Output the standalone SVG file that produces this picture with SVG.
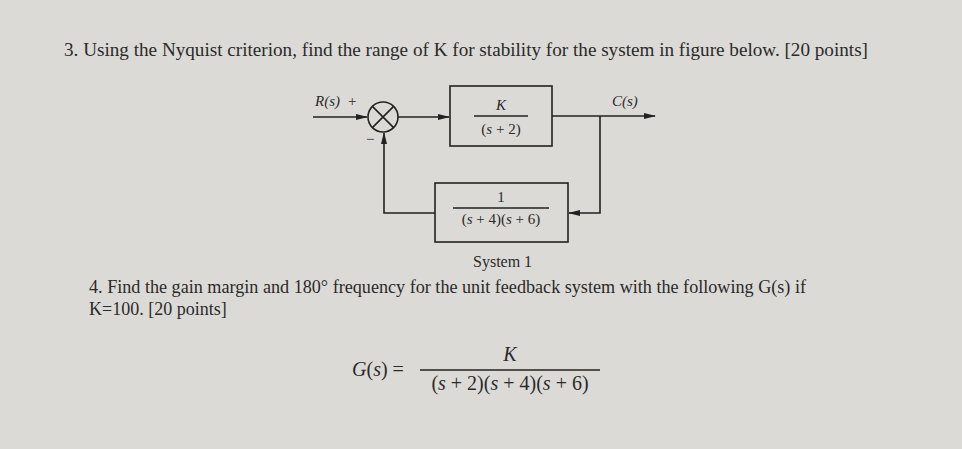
<svg xmlns="http://www.w3.org/2000/svg" width="962" height="449" viewBox="0 0 962 449">
<style>
text{font-family:"Liberation Serif",serif;fill:#2a2a2a}
.t{font-size:18px}
.b{font-size:15px}
.i{font-style:italic}
.ln{stroke:#222;stroke-width:1.6;fill:none}
</style>
<defs><marker id="a" markerWidth="12" markerHeight="8" refX="11" refY="4" orient="auto" markerUnits="userSpaceOnUse"><path d="M0,1 L12,4 L0,7z" fill="#222"/></marker></defs>
<rect width="962" height="449" fill="#dcdad6"/>
<text class="t" x="64" y="56" textLength="804" lengthAdjust="spacingAndGlyphs" style="font-size:19px">3. Using the Nyquist criterion, find the range of K for stability for the system in figure below. [20 points]</text>
<g id="sum"><circle class="ln" cx="383" cy="117" r="15"/><path class="ln" d="M372.4,106.4 L393.6,127.6 M393.6,106.4 L372.4,127.6"/>
<text class="b i" x="315" y="106">R(s)</text><text class="b" x="348" y="106">+</text><text class="b" x="366" y="144">−</text></g>
<g id="fwd"><rect class="ln" x="450" y="86" width="102" height="60"/><text class="b i" x="501" y="110" text-anchor="middle">K</text><line class="ln" x1="474" y1="116" x2="528" y2="116" stroke-width="1"/><text class="b" x="501" y="134" text-anchor="middle">(<tspan class="i">s</tspan> + 2)</text></g>
<g id="fb"><rect class="ln" x="435" y="183" width="133" height="59"/><text class="b" x="501" y="202" text-anchor="middle">1</text><line class="ln" x1="453" y1="208" x2="549" y2="208" stroke-width="1"/><text class="b" x="501" y="224" text-anchor="middle">(<tspan class="i">s</tspan> + 4)(<tspan class="i">s</tspan> + 6)</text></g>
<text class="b i" x="612" y="106">C(s)</text>
<g id="conn">
<line class="ln" x1="313" y1="117" x2="367" y2="117" marker-end="url(#a)"/>
<line class="ln" x1="398" y1="117" x2="449" y2="117" marker-end="url(#a)"/>
<line class="ln" x1="552" y1="116" x2="655" y2="116" marker-end="url(#a)"/>
<polyline class="ln" points="600,116 600,213 569,213" marker-end="url(#a)"/>
<polyline class="ln" points="435,213 384,213 384,133" marker-end="url(#a)"/>
</g>
<text x="473" y="267" style="font-size:16px">System 1</text>
<text class="t" x="89" y="293" textLength="717" lengthAdjust="spacingAndGlyphs">4. Find the gain margin and 180° frequency for the unit feedback system with the following G(s) if</text>
<text class="t" x="89" y="315">K=100. [20 points]</text>
<g id="eq"><text class="i" x="352" y="376" style="font-size:20px">G<tspan font-style="normal">(</tspan>s<tspan font-style="normal">) =</tspan></text>
<text class="i" x="510" y="361" text-anchor="middle" style="font-size:20px">K</text>
<line class="ln" x1="420" y1="370" x2="600" y2="370" stroke-width="1.2"/>
<text x="510" y="390" text-anchor="middle" style="font-size:20px">(<tspan class="i">s</tspan> + 2)(<tspan class="i">s</tspan> + 4)(<tspan class="i">s</tspan> + 6)</text></g>
</svg>
